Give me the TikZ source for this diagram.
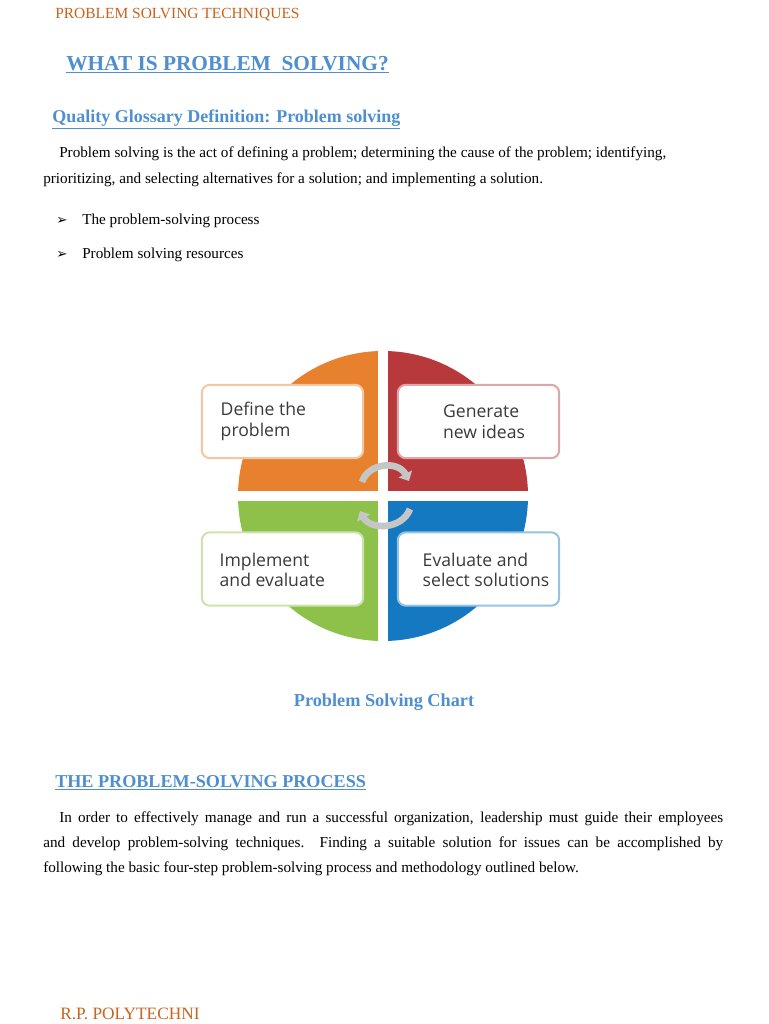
\documentclass[tikz,border=0pt]{standalone}
\usepackage{fontspec}
\setmainfont{Liberation Serif}
\newfontfamily\chartfont{Open Sans}
\usetikzlibrary{arrows.meta}
\definecolor{hdr}{HTML}{C8641E}
\definecolor{ttl}{HTML}{4F8FD0}
\definecolor{qo}{HTML}{E8812D}
\definecolor{qr}{HTML}{B8393C}
\definecolor{qg}{HTML}{8DC149}
\definecolor{qb}{HTML}{1479C0}
\definecolor{txt}{HTML}{3A3A3A}
\tikzset{
  body/.style={anchor=west,inner sep=0pt,font=\fontsize{11.4pt}{13pt}\selectfont},
  qbox/.style={draw=#1!45,line width=1.5pt,fill=white,rounded corners=6pt,minimum width=121pt,minimum height=55pt,inner sep=0pt},
  qtext/.style={font=\chartfont\fontsize{13.2pt}{15.5pt}\selectfont,text=txt,align=left},
  garrow/.style={draw=gray!45,line width=5pt,-{Triangle[length=6pt,width=11pt]}}
}
\begin{document}
\begin{tikzpicture}[x=0.75pt,y=-0.75pt]
\useasboundingbox (0,0) rectangle (768,1024);
\fill[white] (0,0) rectangle (768,1024);
% header
\node[anchor=west,inner sep=0pt,text=hdr,font=\fontsize{11.6pt}{13pt}\selectfont] (hdr) at (55,15) {PROBLEM SOLVING TECHNIQUES};
\node[anchor=west,inner sep=0pt,text=ttl,font=\bfseries\fontsize{16pt}{18pt}\selectfont] (title) at (66,65) {\underline{WHAT IS PROBLEM\ \ SOLVING?}};
\node[anchor=west,inner sep=0pt,text=ttl,font=\bfseries\fontsize{13.5pt}{15pt}\selectfont] (sub) at (52,119) {\underline{Quality Glossary Definition: Problem solving}};
\node[body] (p1) at (59,154) {Problem solving is the act of defining a problem; determining the cause of the problem; identifying,};
\node[body] (p2) at (43,180) {prioritizing, and selecting alternatives for a solution; and implementing a solution.};
\node[body] (b1) at (56,221) {\fontspec{DejaVu Sans}\fontsize{10pt}{11pt}\selectfont ➢};
\node[body] (b1t) at (82,221) {The problem-solving process};
\node[body] (b2) at (56,255) {\fontspec{DejaVu Sans}\fontsize{10pt}{11pt}\selectfont ➢};
\node[body] (b2t) at (82,255) {Problem solving resources};
% chart
\coordinate (c) at (383,496);
\begin{scope}
\clip (c) circle[radius=145];
\fill[qo] (230,340) rectangle (c);
\fill[qr] (536,340) rectangle (c);
\fill[qb] (536,650) rectangle (c);
\fill[qg] (230,650) rectangle (c);
\end{scope}
\fill[white] (378,340) rectangle (388,650);
\fill[white] (230,491) rectangle (536,501);
\node[qbox=qo] (q1) at (282.5,421.5) {};
\node[qbox=qr] (q2) at (478.5,421.5) {};
\node[qbox=qg] (q3) at (282.5,569) {};
\node[qbox=qb] (q4) at (478.5,569) {};
\node[qtext,anchor=west] (t1) at (216,421.5) {Define the\\problem};
\node[qtext] (t2) at (484,421.5) {Generate\\new ideas};
\node[qtext,anchor=west] (t3) at (215,570) {Implement\\and evaluate};
\node[qtext] (t4) at (486,570) {Evaluate and\\select solutions};
\coordinate (a1s) at (362,482);
\coordinate (a1e) at (409,481);
\coordinate (a2s) at (410,509);
\coordinate (a2e) at (360,511);
\draw[garrow] (a1s) .. controls (368,463) and (398,460) .. (a1e);
\draw[garrow] (a2s) .. controls (402,530) and (370,530) .. (a2e);
\node[inner sep=0pt,text=ttl,font=\bfseries\fontsize{13.7pt}{15pt}\selectfont] (cap) at (384,702) {Problem Solving Chart};
\node[anchor=west,inner sep=0pt,text=ttl,font=\bfseries\fontsize{13.6pt}{15pt}\selectfont] (sec) at (55,783) {\underline{THE PROBLEM-SOLVING PROCESS}};
\node[body] (q1l) at (59,819) {\hbox to 498pt{In order to effectively manage and run a successful organization, leadership must guide their employees}};
\node[body] (q2l) at (43,844) {\hbox to 510pt{and develop problem-solving techniques. Finding a suitable solution for issues can be accomplished by}};
\node[body] (q3l) at (43,869) {following the basic four-step problem-solving process and methodology outlined below.};
\node[anchor=west,inner sep=0pt,text=hdr,font=\fontsize{13pt}{15pt}\selectfont] (foot) at (60,1014) {R.P. POLYTECHNI};
\end{tikzpicture}
\end{document}
